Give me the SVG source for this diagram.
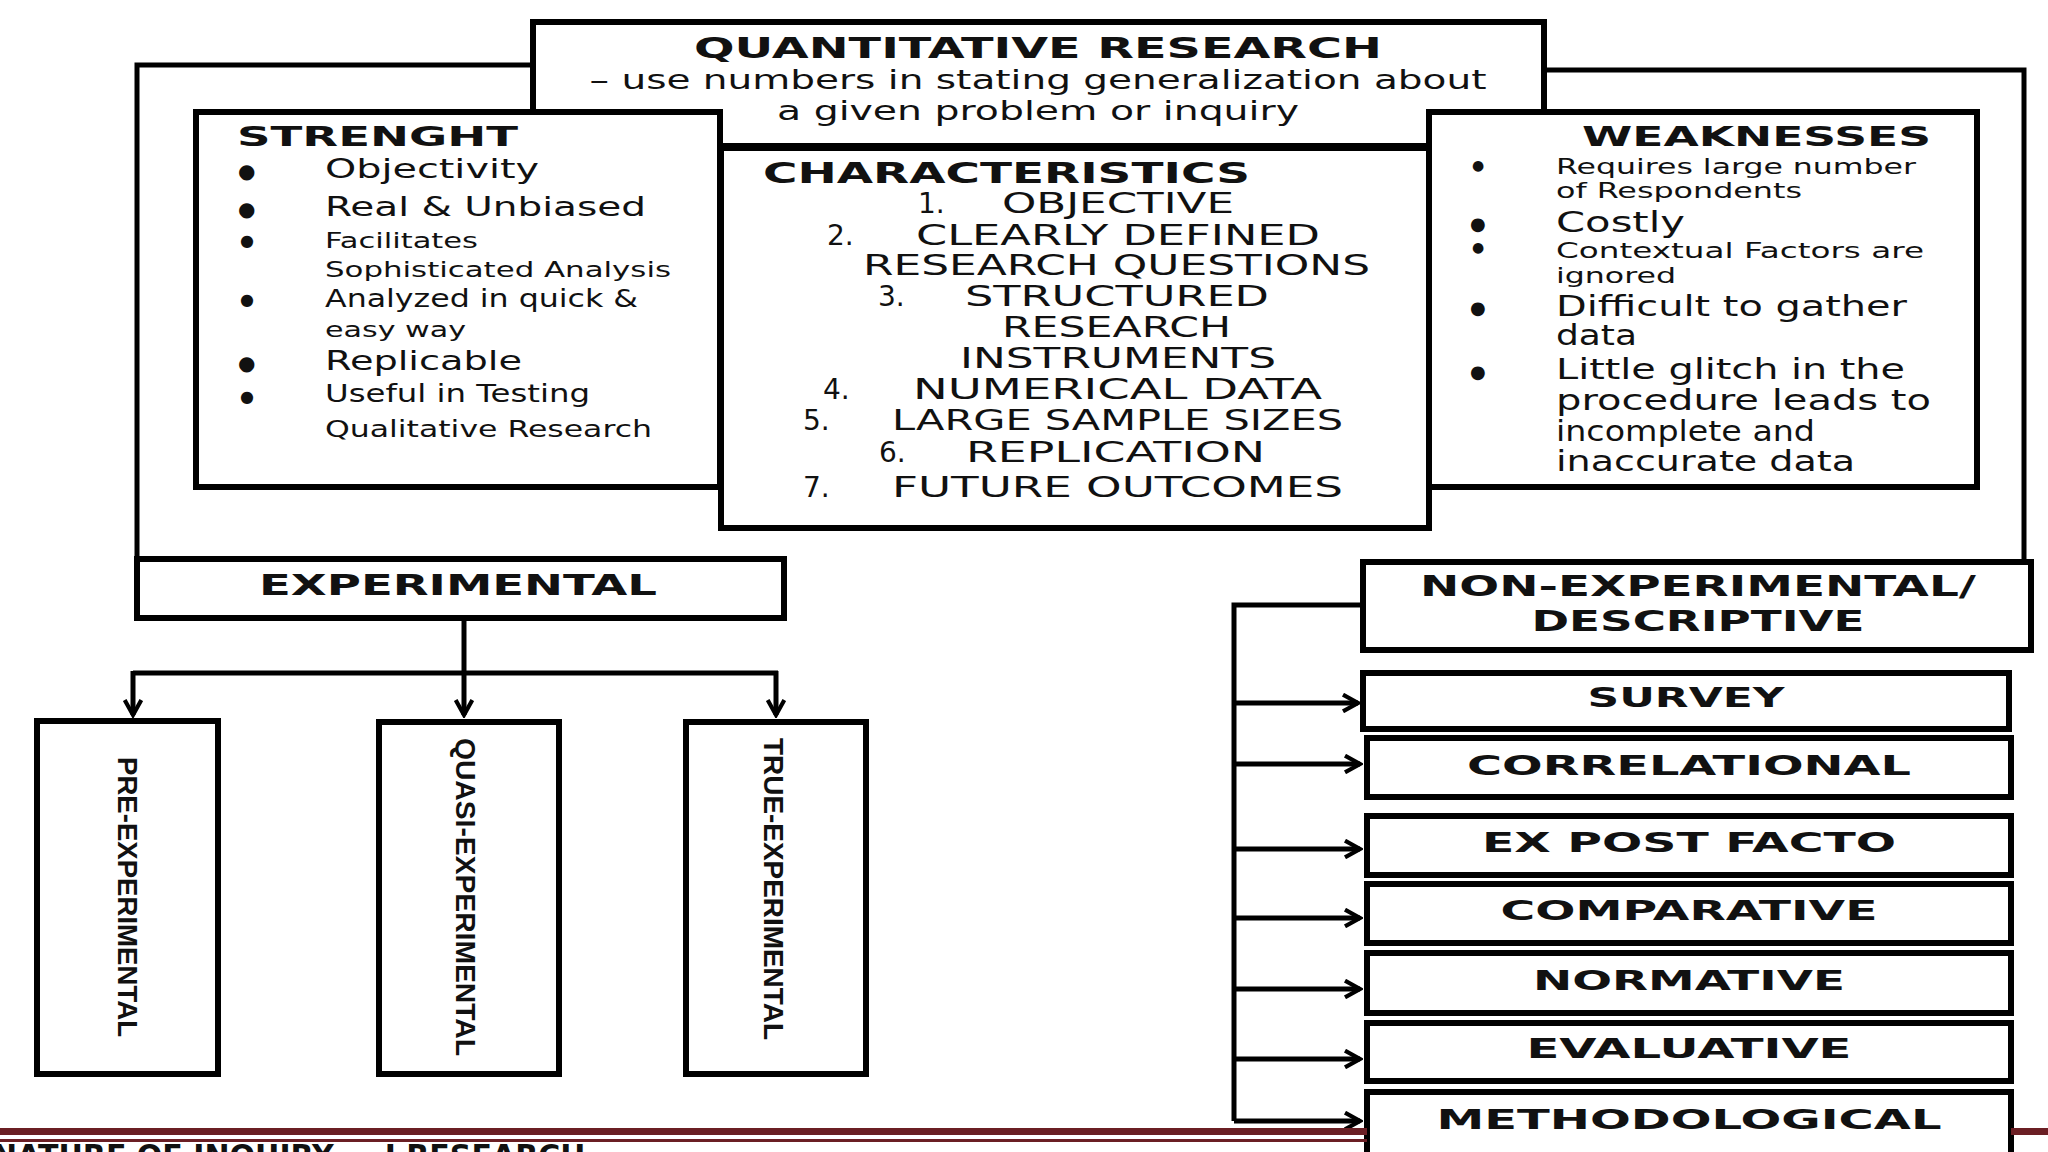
<svg xmlns="http://www.w3.org/2000/svg" width="2048" height="1152" viewBox="0 0 2048 1152">
<defs>
<style>
.b{fill:#fff;stroke:#000;stroke-width:6}
.l{fill:none;stroke:#000;stroke-width:5}
.h{font-family:"DejaVu Sans","Liberation Sans",sans-serif;font-weight:bold;fill:#111}
.t{font-family:"DejaVu Sans","Liberation Sans",sans-serif;fill:#111}
.v{font-family:"Liberation Sans",Arial,sans-serif;font-weight:bold;font-size:28px;fill:#111}
</style>
<marker id="a" viewBox="0 0 12 12" refX="10" refY="6" markerWidth="4" markerHeight="4" orient="auto"><path d="M1,1 L10,6 L1,11" fill="none" stroke="#000" stroke-width="2.5"/></marker>
</defs>
<rect width="2048" height="1152" fill="#fff"/>
<g id="connectors">
<path class="l" d="M137,559 V65 H533"/>
<path class="l" d="M1544,70 H2024 V562"/>
<path class="l" d="M464,618 V715" marker-end="url(#a)"/>
<path class="l" d="M133,673 H778"/>
<path class="l" d="M133,671 V715" marker-end="url(#a)"/>
<path class="l" d="M776,671 V715" marker-end="url(#a)"/>
<path class="l" d="M1363,605 H1234 V1121"/>
<path class="l" d="M1234,703 H1358" marker-end="url(#a)"/>
<path class="l" d="M1234,764 H1360" marker-end="url(#a)"/>
<path class="l" d="M1234,849 H1360" marker-end="url(#a)"/>
<path class="l" d="M1234,918 H1360" marker-end="url(#a)"/>
<path class="l" d="M1234,989 H1360" marker-end="url(#a)"/>
<path class="l" d="M1234,1059 H1360" marker-end="url(#a)"/>
<path class="l" d="M1234,1121 H1360" marker-end="url(#a)"/>
</g>
<g id="title"><rect class="b" x="533" y="22" width="1011" height="124"/>
<text class="h" x="1038" y="58" font-size="28" text-anchor="middle" textLength="688" lengthAdjust="spacingAndGlyphs">QUANTITATIVE RESEARCH</text>
<text class="t" x="1038" y="89" font-size="26" text-anchor="middle" textLength="897" lengthAdjust="spacingAndGlyphs">– use numbers in stating generalization about</text>
<text class="t" x="1038" y="120" font-size="26" text-anchor="middle" textLength="522" lengthAdjust="spacingAndGlyphs">a given problem or inquiry</text></g>
<g id="strength"><rect class="b" x="196" y="112" width="524" height="375"/>
<text class="h" x="237" y="146" font-size="27" textLength="281" lengthAdjust="spacingAndGlyphs">STRENGHT</text>
<g class="t" font-size="26">
<text x="238" y="178" font-size="20">●</text><text x="325" y="178" textLength="214" lengthAdjust="spacingAndGlyphs">Objectivity</text>
<text x="238" y="216" font-size="20">●</text><text x="325" y="216" textLength="321" lengthAdjust="spacingAndGlyphs">Real &amp; Unbiased</text>
<text x="240" y="246" font-size="16">●</text><text x="325" y="248" font-size="22" textLength="153" lengthAdjust="spacingAndGlyphs">Facilitates</text><text x="325" y="277" font-size="22" textLength="346" lengthAdjust="spacingAndGlyphs">Sophisticated Analysis</text>
<text x="240" y="305" font-size="16">●</text><text x="325" y="307" font-size="24" textLength="313" lengthAdjust="spacingAndGlyphs">Analyzed in quick &amp;</text><text x="325" y="337" font-size="22" textLength="141" lengthAdjust="spacingAndGlyphs">easy way</text>
<text x="238" y="370" font-size="20">●</text><text x="325" y="370" textLength="197" lengthAdjust="spacingAndGlyphs">Replicable</text>
<text x="240" y="402" font-size="16">●</text><text x="325" y="402" font-size="24" textLength="265" lengthAdjust="spacingAndGlyphs">Useful in Testing</text><text x="325" y="437" font-size="23" textLength="327" lengthAdjust="spacingAndGlyphs">Qualitative Research</text>
</g></g>
<g id="characteristics"><rect class="b" x="721" y="148" width="708" height="380"/>
<text class="h" x="763" y="183" font-size="28" textLength="487" lengthAdjust="spacingAndGlyphs">CHARACTERISTICS</text>
<g class="t" font-size="28">
<text x="918" y="213">1.</text><text x="1002" y="213" textLength="232" lengthAdjust="spacingAndGlyphs">OBJECTIVE</text>
<text x="827" y="245">2.</text><text x="916" y="245" textLength="404" lengthAdjust="spacingAndGlyphs">CLEARLY DEFINED</text>
<text x="863" y="275" textLength="507" lengthAdjust="spacingAndGlyphs">RESEARCH QUESTIONS</text>
<text x="878" y="306">3.</text><text x="965" y="306" textLength="304" lengthAdjust="spacingAndGlyphs">STRUCTURED</text>
<text x="1002" y="337" textLength="229" lengthAdjust="spacingAndGlyphs">RESEARCH</text>
<text x="960" y="368" textLength="316" lengthAdjust="spacingAndGlyphs">INSTRUMENTS</text>
<text x="823" y="399">4.</text><text x="913" y="399" textLength="409" lengthAdjust="spacingAndGlyphs">NUMERICAL DATA</text>
<text x="803" y="430">5.</text><text x="892" y="430" textLength="451" lengthAdjust="spacingAndGlyphs">LARGE SAMPLE SIZES</text>
<text x="879" y="462">6.</text><text x="966" y="462" textLength="299" lengthAdjust="spacingAndGlyphs">REPLICATION</text>
<text x="803" y="497">7.</text><text x="892" y="497" textLength="451" lengthAdjust="spacingAndGlyphs">FUTURE OUTCOMES</text>
</g></g>
<g id="weaknesses"><rect class="b" x="1429" y="112" width="548" height="375"/>
<text class="h" x="1582" y="146" font-size="27" textLength="349" lengthAdjust="spacingAndGlyphs">WEAKNESSES</text>
<g class="t">
<text x="1472" y="170" font-size="14">●</text><text x="1556" y="174" font-size="21" textLength="360" lengthAdjust="spacingAndGlyphs">Requires large number</text><text x="1556" y="198" font-size="21" textLength="246" lengthAdjust="spacingAndGlyphs">of Respondents</text>
<text x="1470" y="230" font-size="18">●</text><text x="1556" y="232" font-size="28" textLength="129" lengthAdjust="spacingAndGlyphs">Costly</text>
<text x="1472" y="252" font-size="14">●</text><text x="1556" y="258" font-size="21" textLength="368" lengthAdjust="spacingAndGlyphs">Contextual Factors are</text><text x="1556" y="283" font-size="21" textLength="120" lengthAdjust="spacingAndGlyphs">ignored</text>
<text x="1470" y="314" font-size="18">●</text><text x="1556" y="316" font-size="28" textLength="351" lengthAdjust="spacingAndGlyphs">Difficult to gather</text><text x="1556" y="345" font-size="28" textLength="81" lengthAdjust="spacingAndGlyphs">data</text>
<text x="1470" y="378" font-size="18">●</text><text x="1556" y="379" font-size="28" textLength="349" lengthAdjust="spacingAndGlyphs">Little glitch in the</text><text x="1556" y="410" font-size="28" textLength="375" lengthAdjust="spacingAndGlyphs">procedure leads to</text><text x="1556" y="441" font-size="28" textLength="259" lengthAdjust="spacingAndGlyphs">incomplete and</text><text x="1556" y="471" font-size="28" textLength="299" lengthAdjust="spacingAndGlyphs">inaccurate data</text>
</g></g>
<g id="experimental"><rect class="b" x="137" y="559" width="647" height="59"/><text class="h" x="458" y="595" font-size="28" text-anchor="middle" textLength="398" lengthAdjust="spacingAndGlyphs">EXPERIMENTAL</text></g>
<g id="pre"><rect class="b" x="37" y="721" width="181" height="353"/><text class="v" transform="translate(118,757) rotate(90)" textLength="280" lengthAdjust="spacingAndGlyphs">PRE-EXPERIMENTAL</text></g>
<g id="quasi"><rect class="b" x="379" y="722" width="180" height="352"/><text class="v" transform="translate(456,738) rotate(90)" textLength="318" lengthAdjust="spacingAndGlyphs">QUASI-EXPERIMENTAL</text></g>
<g id="true"><rect class="b" x="686" y="722" width="180" height="352"/><text class="v" transform="translate(764,738) rotate(90)" textLength="302" lengthAdjust="spacingAndGlyphs">TRUE-EXPERIMENTAL</text></g>
<g id="nonexp"><rect class="b" x="1363" y="562" width="668" height="88"/><text class="h" x="1698" y="596" font-size="28" text-anchor="middle" textLength="556" lengthAdjust="spacingAndGlyphs">NON-EXPERIMENTAL/</text><text class="h" x="1698" y="631" font-size="28" text-anchor="middle" textLength="333" lengthAdjust="spacingAndGlyphs">DESCRIPTIVE</text></g>
<g id="survey"><rect class="b" x="1363" y="673" width="646" height="56"/><text class="h" x="1686" y="707" font-size="27" text-anchor="middle" textLength="197" lengthAdjust="spacingAndGlyphs">SURVEY</text></g>
<g id="correlational"><rect class="b" x="1367" y="738" width="644" height="59"/><text class="h" x="1689" y="775" font-size="27" text-anchor="middle" textLength="444" lengthAdjust="spacingAndGlyphs">CORRELATIONAL</text></g>
<g id="expost"><rect class="b" x="1367" y="816" width="644" height="59"/><text class="h" x="1689" y="852" font-size="27" text-anchor="middle" textLength="414" lengthAdjust="spacingAndGlyphs">EX POST FACTO</text></g>
<g id="comparative"><rect class="b" x="1367" y="884" width="644" height="59"/><text class="h" x="1689" y="920" font-size="27" text-anchor="middle" textLength="377" lengthAdjust="spacingAndGlyphs">COMPARATIVE</text></g>
<g id="normative"><rect class="b" x="1367" y="953" width="644" height="60"/><text class="h" x="1689" y="990" font-size="27" text-anchor="middle" textLength="312" lengthAdjust="spacingAndGlyphs">NORMATIVE</text></g>
<g id="evaluative"><rect class="b" x="1367" y="1023" width="644" height="58"/><text class="h" x="1689" y="1058" font-size="27" text-anchor="middle" textLength="325" lengthAdjust="spacingAndGlyphs">EVALUATIVE</text></g>
<g id="methodological"><rect class="b" x="1367" y="1092" width="644" height="70"/><text class="h" x="1689" y="1129" font-size="27" text-anchor="middle" textLength="505" lengthAdjust="spacingAndGlyphs">METHODOLOGICAL</text></g>
<rect x="0" y="1128" width="1367" height="7" fill="#6b1f24"/>
<rect x="0" y="1139" width="1367" height="3" fill="#6b1f24"/>
<rect x="2011" y="1128" width="37" height="7" fill="#6b1f24"/>
<text class="h" x="-8" y="1166" font-size="30" fill="#222">NATURE OF INQUIRY — I RESEARCH</text>
</svg>
